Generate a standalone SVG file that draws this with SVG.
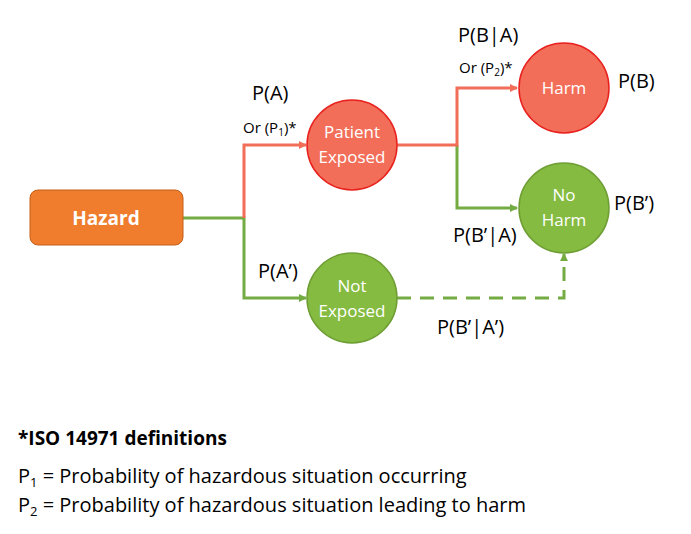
<svg xmlns="http://www.w3.org/2000/svg" width="691" height="534" viewBox="0 0 691 534">
<style>
text{font-family:"Open Sans","Liberation Sans",sans-serif;}
.lbl{font-size:20px;fill:#000;}
.sm{font-size:15px;fill:#000;}
.nt{font-size:17px;fill:#fff;text-anchor:middle;}
.red{fill:#f26e58;stroke:#e8211e;stroke-width:1.5;}
.grn{fill:#84bb40;stroke:#6f9e35;stroke-width:1.5;}
.lr{stroke:#f26e58;stroke-width:3;fill:none;}
.lg{stroke:#75ab43;stroke-width:3;fill:none;}
</style>
<defs>
<marker id="ar" markerWidth="8" markerHeight="8" refX="7" refY="4" orient="auto" markerUnits="userSpaceOnUse"><path d="M0,0 L8,4 L0,8 Z" fill="#f26e58"/></marker>
<marker id="ag" markerWidth="8" markerHeight="8" refX="7" refY="4" orient="auto" markerUnits="userSpaceOnUse"><path d="M0,0 L8,4 L0,8 Z" fill="#75ab43"/></marker>
</defs>
<rect width="691" height="534" fill="#fff"/>
<g id="connectors">
<path class="lg" d="M183,218 H244 V298 H306" marker-end="url(#ag)"/>
<path class="lr" d="M244,218 V145 H306" marker-end="url(#ar)"/>
<path class="lg" d="M457,145 V208 H517" marker-end="url(#ag)"/>
<path class="lr" d="M397,145 H457 V88 H517" marker-end="url(#ar)"/>
<path class="lg" d="M397,298 H564 V254" stroke-dasharray="14,9" marker-end="url(#ag)"/>
</g>
<g id="hazard"><rect x="30" y="190" width="153" height="55" rx="8" fill="#ef7d2d" stroke="#c45f19" stroke-width="1"/><text x="106" y="225" text-anchor="middle" font-size="19" font-weight="bold" fill="#fff">Hazard</text></g>
<g id="patient"><circle class="red" cx="352" cy="145" r="45"/><text class="nt" x="352" y="138">Patient</text><text class="nt" x="352" y="163">Exposed</text></g>
<g id="notexposed"><circle class="grn" cx="352" cy="298" r="45"/><text class="nt" x="352" y="292">Not</text><text class="nt" x="352" y="317">Exposed</text></g>
<g id="harm"><circle class="red" cx="564" cy="88" r="45"/><text class="nt" x="564" y="94">Harm</text></g>
<g id="noharm"><circle class="grn" cx="564" cy="208" r="45"/><text class="nt" x="564" y="201">No</text><text class="nt" x="564" y="226">Harm</text></g>
<g id="labels">
<text class="lbl" x="252" y="100">P(A)</text>
<text class="sm" x="243" y="133">Or (P<tspan font-size="10" dy="3">1</tspan><tspan dy="-3">)*</tspan></text>
<text class="lbl" x="458" y="42">P(B|A)</text>
<text class="sm" x="459" y="73">Or (P<tspan font-size="10" dy="3">2</tspan><tspan dy="-3">)*</tspan></text>
<text class="lbl" x="618" y="88">P(B)</text>
<text class="lbl" x="614" y="210">P(B’)</text>
<text class="lbl" x="453" y="242">P(B’|A)</text>
<text class="lbl" x="258" y="278">P(A’)</text>
<text class="lbl" x="437" y="334">P(B’|A’)</text>
<text x="18" y="445" font-size="19" font-weight="bold">*ISO 14971 definitions</text>
<text x="18" y="483" font-size="20">P<tspan font-size="13" dy="4">1</tspan><tspan dy="-4"> = Probability of hazardous situation occurring</tspan></text>
<text x="18" y="512" font-size="20">P<tspan font-size="13" dy="4">2</tspan><tspan dy="-4"> = Probability of hazardous situation leading to harm</tspan></text>
</g>
</svg>
